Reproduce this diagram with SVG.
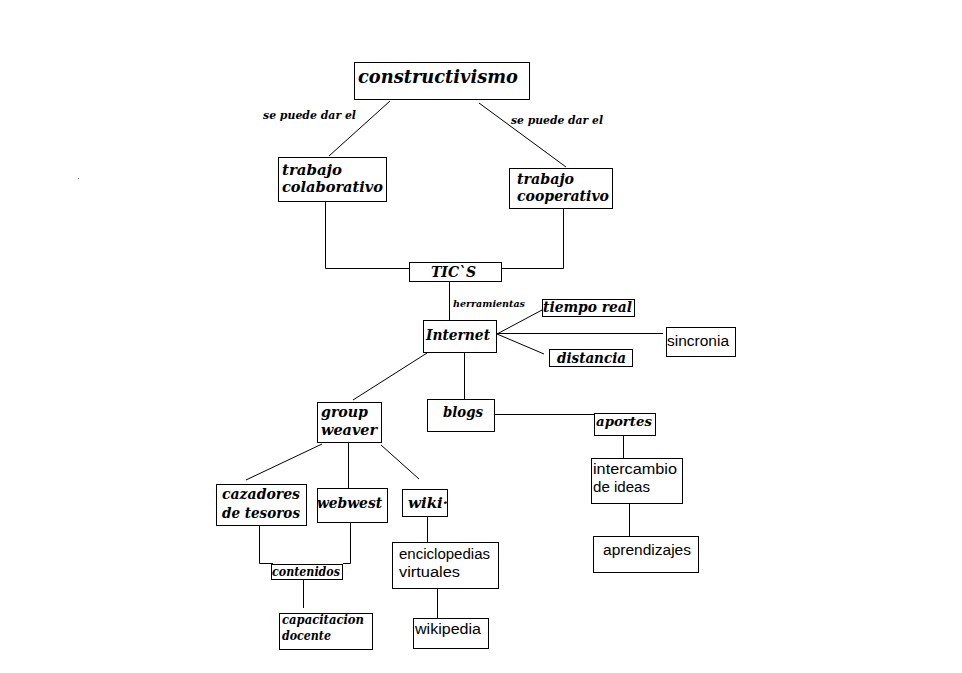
<svg xmlns="http://www.w3.org/2000/svg" width="962" height="673" viewBox="0 0 962 673">
<style>
.b{fill:#fff;stroke:#000;stroke-width:1}
.c line,.c polyline{stroke:#000;stroke-width:1;fill:none}
.s{font-family:"DejaVu Serif","Liberation Serif",serif;font-weight:bold;font-style:italic;fill:#000}
.a{font-family:"Liberation Sans",Arial,sans-serif;fill:#000;font-size:15.5px}
</style>
<rect x="0" y="0" width="962" height="673" fill="#fff"/>
<rect x="78" y="178" width="1" height="1" fill="#777"/>
<g class="c" id="connectors">
<line x1="390" y1="101" x2="329" y2="156"/>
<line x1="479" y1="103" x2="566" y2="167"/>
<polyline points="325.5,202 325.5,268.5 409,268.5"/>
<polyline points="563.5,209 563.5,268.5 502,268.5"/>
<line x1="449.5" y1="282" x2="449.5" y2="320"/>
<line x1="497" y1="334" x2="542" y2="310"/>
<line x1="497" y1="333.5" x2="663" y2="333.5"/>
<line x1="497" y1="334" x2="544" y2="354"/>
<line x1="427" y1="353" x2="353" y2="400"/>
<line x1="464.5" y1="353" x2="464.5" y2="399"/>
<line x1="494" y1="414.5" x2="594" y2="414.5"/>
<line x1="623.5" y1="436" x2="623.5" y2="458"/>
<line x1="629.5" y1="504" x2="629.5" y2="536"/>
<line x1="322" y1="444" x2="246" y2="480"/>
<line x1="348.5" y1="443" x2="348.5" y2="490"/>
<line x1="381" y1="445" x2="419" y2="479"/>
<polyline points="259.5,526 259.5,563.5 273,563.5"/>
<polyline points="350.5,523 350.5,563.5 343,563.5"/>
<line x1="303.5" y1="580" x2="303.5" y2="608"/>
<line x1="427.5" y1="517" x2="427.5" y2="542"/>
<line x1="437.5" y1="589" x2="437.5" y2="618"/>
</g>
<g id="n-constructivismo"><rect class="b" x="354.5" y="62.5" width="175" height="37"/><text class="s" x="358" y="83" font-size="19" textLength="160" lengthAdjust="spacingAndGlyphs">constructivismo</text></g>
<g id="l-sepuede1"><text class="s" x="263" y="119" font-size="11" textLength="93" lengthAdjust="spacingAndGlyphs">se puede dar el</text></g>
<g id="l-sepuede2"><text class="s" x="511" y="124" font-size="11" textLength="92" lengthAdjust="spacingAndGlyphs">se puede dar el</text></g>
<g id="n-colaborativo"><rect class="b" x="278.5" y="157.5" width="108" height="44"/><text class="s" x="282" y="175" font-size="15" textLength="60" lengthAdjust="spacingAndGlyphs">trabajo</text><text class="s" x="282" y="192" font-size="15" textLength="101" lengthAdjust="spacingAndGlyphs">colaborativo</text></g>
<g id="n-cooperativo"><rect class="b" x="509.5" y="168.5" width="103" height="40"/><text class="s" x="517" y="184" font-size="15" textLength="57" lengthAdjust="spacingAndGlyphs">trabajo</text><text class="s" x="517" y="201" font-size="15" textLength="92" lengthAdjust="spacingAndGlyphs">cooperativo</text></g>
<g id="n-tics"><rect class="b" x="409.5" y="262.5" width="92" height="19"/><text class="s" x="431" y="277" font-size="14" textLength="45" lengthAdjust="spacingAndGlyphs">TIC`S</text></g>
<g id="l-herramientas"><text class="s" x="453" y="307" font-size="10" textLength="72" lengthAdjust="spacingAndGlyphs">herramientas</text></g>
<g id="n-internet"><rect class="b" x="423.5" y="320.5" width="73" height="32"/><text class="s" x="426" y="340" font-size="15" textLength="64" lengthAdjust="spacingAndGlyphs">Internet</text></g>
<g id="n-tiempo"><rect class="b" x="542.5" y="299.5" width="92" height="17"/><text class="s" x="543" y="312" font-size="15" textLength="89" lengthAdjust="spacingAndGlyphs">tiempo real</text></g>
<g id="n-sincronia"><rect class="b" x="666.5" y="327.5" width="69" height="29"/><text class="a" x="667" y="346" textLength="62" lengthAdjust="spacingAndGlyphs">sincronia</text></g>
<g id="n-distancia"><rect class="b" x="549.5" y="349.5" width="83" height="17"/><text class="s" x="557" y="363" font-size="14" textLength="69" lengthAdjust="spacingAndGlyphs">distancia</text></g>
<g id="n-groupweaver"><rect class="b" x="317.5" y="402.5" width="64" height="40"/><text class="s" x="321" y="417" font-size="15" textLength="47" lengthAdjust="spacingAndGlyphs">group</text><text class="s" x="321" y="435" font-size="15" textLength="56" lengthAdjust="spacingAndGlyphs">weaver</text></g>
<g id="n-blogs"><rect class="b" x="427.5" y="399.5" width="67" height="32"/><text class="s" x="443" y="417" font-size="15" textLength="40" lengthAdjust="spacingAndGlyphs">blogs</text></g>
<g id="n-aportes"><rect class="b" x="594.5" y="413.5" width="61" height="22"/><text class="s" x="596" y="426" font-size="12" textLength="56" lengthAdjust="spacingAndGlyphs">aportes</text></g>
<g id="n-intercambio"><rect class="b" x="591.5" y="458.5" width="91" height="45"/><text class="a" x="593" y="474" textLength="84" lengthAdjust="spacingAndGlyphs">intercambio</text><text class="a" x="593" y="492" textLength="57" lengthAdjust="spacingAndGlyphs">de ideas</text></g>
<g id="n-aprendizajes"><rect class="b" x="593.5" y="536.5" width="105" height="36"/><text class="a" x="603" y="555" textLength="88" lengthAdjust="spacingAndGlyphs">aprendizajes</text></g>
<g id="n-cazadores"><rect class="b" x="216.5" y="484.5" width="90" height="41"/><text class="s" x="222" y="499" font-size="15" textLength="78" lengthAdjust="spacingAndGlyphs">cazadores</text><text class="s" x="222" y="518" font-size="15" textLength="78" lengthAdjust="spacingAndGlyphs">de tesoros</text></g>
<g id="n-webwest"><rect class="b" x="317.5" y="488.5" width="70" height="34"/><text class="s" x="317" y="508" font-size="15" textLength="65" lengthAdjust="spacingAndGlyphs">webwest</text></g>
<g id="n-wiki"><rect class="b" x="402.5" y="489.5" width="45" height="27"/><text class="s" x="408" y="508" font-size="15" textLength="40" lengthAdjust="spacingAndGlyphs">wiki·</text></g>
<g id="n-contenidos"><rect class="b" x="271.5" y="564.5" width="71" height="15"/><text class="s" x="272" y="576" font-size="12" textLength="68" lengthAdjust="spacingAndGlyphs">contenidos</text></g>
<g id="n-capacitacion"><rect class="b" x="279.5" y="613.5" width="93" height="36"/><text class="s" x="282" y="624" font-size="12.5" textLength="82" lengthAdjust="spacingAndGlyphs">capacitacion</text><text class="s" x="282" y="640" font-size="12.5" textLength="49" lengthAdjust="spacingAndGlyphs">docente</text></g>
<g id="n-enciclopedias"><rect class="b" x="392.5" y="542.5" width="106" height="46"/><text class="a" x="399" y="559" textLength="91" lengthAdjust="spacingAndGlyphs">enciclopedias</text><text class="a" x="399" y="577" textLength="61" lengthAdjust="spacingAndGlyphs">virtuales</text></g>
<g id="n-wikipedia"><rect class="b" x="413.5" y="618.5" width="75" height="30"/><text class="a" x="415" y="634" textLength="66" lengthAdjust="spacingAndGlyphs">wikipedia</text></g>
</svg>
